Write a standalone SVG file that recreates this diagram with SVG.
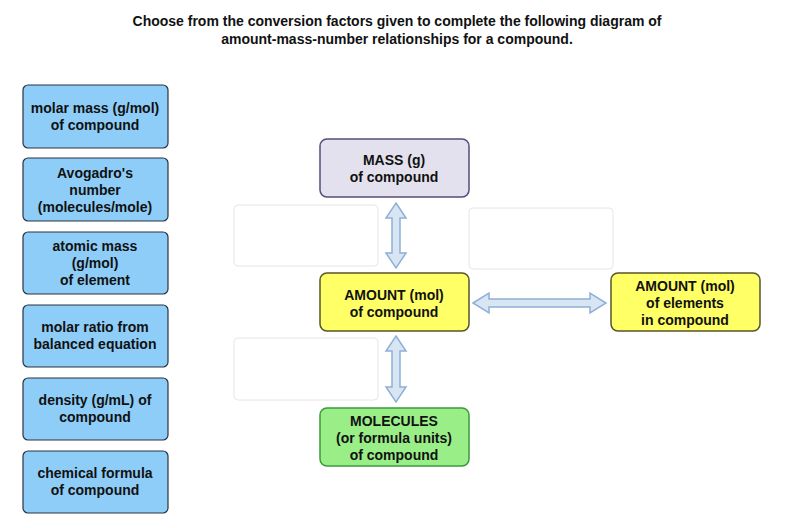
<svg xmlns="http://www.w3.org/2000/svg" width="806" height="528" viewBox="0 0 806 528">
<style>
text{font-family:"Liberation Sans",Arial,sans-serif;font-weight:bold;font-size:14px;fill:#111;text-anchor:middle}
.f{fill:#8ecdf8;stroke:#2a3340;stroke-width:1.2}
.e{fill:#fff;stroke:#e6e6e6;stroke-width:1}
.a{fill:#d8e5f3;stroke:#8fb0d6;stroke-width:1.5}
</style>
<rect width="806" height="528" fill="#fff"/>
<text x="397" y="26">Choose from the conversion factors given to complete the following diagram of</text>
<text x="397" y="44">amount-mass-number relationships for a compound.</text>
<g id="f1"><rect class="f" x="23" y="85" width="145" height="63" rx="5"/><text x="95" y="113">molar mass (g/mol)</text><text x="95" y="130">of compound</text></g>
<g id="f2"><rect class="f" x="23" y="158" width="145" height="63" rx="5"/><text x="95" y="178">Avogadro's</text><text x="95" y="195">number</text><text x="95" y="212">(molecules/mole)</text></g>
<g id="f3"><rect class="f" x="23" y="232" width="145" height="62" rx="5"/><text x="95" y="251">atomic mass</text><text x="95" y="268">(g/mol)</text><text x="95" y="285">of element</text></g>
<g id="f4"><rect class="f" x="23" y="305" width="145" height="62" rx="5"/><text x="95" y="332">molar ratio from</text><text x="95" y="349">balanced equation</text></g>
<g id="f5"><rect class="f" x="23" y="378" width="145" height="62" rx="5"/><text x="95" y="405">density (g/mL) of</text><text x="95" y="422">compound</text></g>
<g id="f6"><rect class="f" x="23" y="451" width="145" height="62" rx="5"/><text x="95" y="478">chemical formula</text><text x="95" y="495">of compound</text></g>
<g id="e1"><rect class="e" x="234" y="205" width="144" height="61" rx="4"/></g>
<g id="e2"><rect class="e" x="469" y="208" width="144" height="61" rx="4"/></g>
<g id="e3"><rect class="e" x="234" y="338" width="144" height="62" rx="4"/></g>
<g id="mass"><rect x="320" y="139" width="149" height="58" rx="7" fill="#e4e1ee" stroke="#5a4a7a" stroke-width="1.5"/><text x="394" y="165">MASS (g)</text><text x="394" y="182">of compound</text></g>
<g id="amount"><rect x="320" y="273" width="149" height="58" rx="7" fill="#ffff66" stroke="#55552a" stroke-width="1.5"/><text x="394" y="300">AMOUNT (mol)</text><text x="394" y="317">of compound</text></g>
<g id="elements"><rect x="611" y="273" width="149" height="58" rx="7" fill="#ffff66" stroke="#55552a" stroke-width="1.5"/><text x="685" y="291">AMOUNT (mol)</text><text x="685" y="308">of elements</text><text x="685" y="325">in compound</text></g>
<g id="molecules"><rect x="320" y="408" width="149" height="58" rx="7" fill="#99ee88" stroke="#3a9a3a" stroke-width="1.5"/><text x="394" y="426">MOLECULES</text><text x="394" y="443">(or formula units)</text><text x="394" y="460">of compound</text></g>
<g id="connectors">
<path class="a" d="M396,203 L406,218 L400,218 L400,253 L406,253 L396,268 L386,253 L392,253 L392,218 L386,218 Z"/>
<path class="a" d="M396,336 L406,351 L400,351 L400,387 L406,387 L396,402 L386,387 L392,387 L392,351 L386,351 Z"/>
<path class="a" d="M473,303 L489,293 L489,299 L590,299 L590,293 L606,303 L590,313 L590,307 L489,307 L489,313 Z"/>
</g>
</svg>
